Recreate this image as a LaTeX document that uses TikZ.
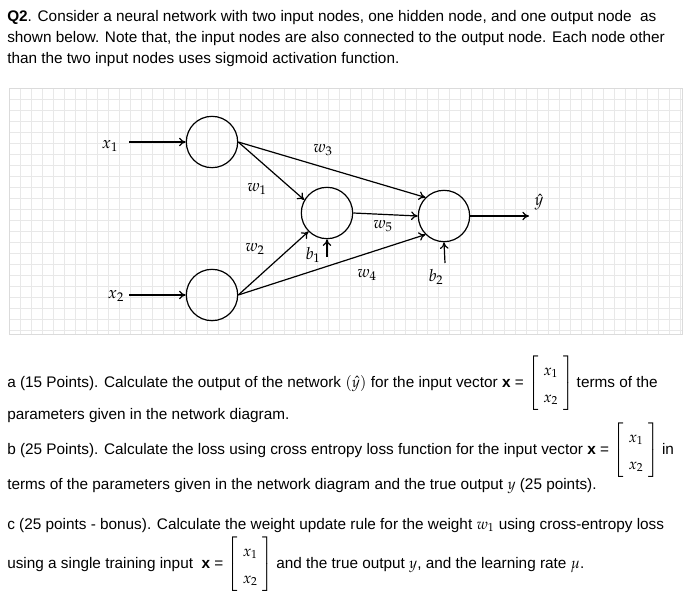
\documentclass[tikz,border=0pt]{standalone}
\usepackage{amsmath}
\usepackage{mathpazo}
\usepackage[no-math]{fontspec}
\setmainfont{Liberation Sans}
\usetikzlibrary{arrows.meta}
\newcommand\qfont{\fontsize{11.5}{14}\selectfont}
\newcommand\labfont{\fontsize{12.5}{14}\selectfont}
\newcommand\vecx{\ensuremath{\renewcommand\arraystretch{1.45}\left[\begin{array}{@{\hspace{3.5pt}}c@{\hspace{3.5pt}}} x_1\\ x_2\end{array}\right]}}
\begin{document}
\begin{tikzpicture}[x=0.75pt,y=-0.75pt,
  neuron/.style={circle,draw,line width=0.9pt,minimum size=38.5pt,inner sep=0pt},
  edge/.style={-{To[length=5pt,width=6.5pt]},line width=0.9pt},
  lab/.style={font=\labfont,inner sep=0pt},
  qline/.style={anchor=base west,inner sep=0pt,font=\qfont},
  gridline/.style={draw=black!9,line width=0.5pt}]
\useasboundingbox (0,0) rectangle (686,590);
\fill[white] (0,0) rectangle (686,590);
% grid background
\foreach \i in {0,...,61} \draw[gridline] ({9+11*\i},88) -- ({9+11*\i},334);
\foreach \j in {0,...,22} \draw[gridline] (9,{88+11*\j}) -- (682,{88+11*\j});
\draw[draw=black!14,line width=0.5pt] (9,88) rectangle (682,334);
% header text
\node[qline] (h1) at (7,21) {\textbf{Q2}. Consider a neural network with two input nodes, one hidden node, and one output node\ \ as};
\node[qline] (h2) at (7,42) {shown below. Note that, the input nodes are also connected to the output node. Each node other};
\node[qline] (h3) at (7,63) {than the two input nodes uses sigmoid activation function.};
% network
\node[neuron] (in1) at (212,142) {};
\node[neuron] (in2) at (212,295) {};
\node[neuron] (hid) at (327,213) {};
\node[neuron] (out) at (444,216) {};
\node[lab] (x1) at (110,146) {$x_1$};
\node[lab] (x2) at (116,296) {$x_2$};
\coordinate (x1s) at (129,142);
\coordinate (x2s) at (129,295);
\coordinate (yend) at (529,216);
\coordinate (b1s) at (327,257);
\coordinate (b2s) at (445,263);
\draw[edge] (x1s) -- (in1);
\draw[edge] (x2s) -- (in2);
\draw[edge] (in1.east) -- (hid.150);
\draw[edge] (in1.east) -- (out.135);
\draw[edge] (in2.east) -- (hid.225);
\draw[edge] (in2.east) -- (out.225);
\draw[edge] (hid.east) -- (out.west);
\draw[edge] (out.east) -- (yend);
\draw[edge] (b1s) -- (hid.south);
\draw[edge] (b2s) -- (out.south);
\node[lab] (w1) at (257,189) {$w_1$};
\node[lab] (w2) at (255,249) {$w_2$};
\node[lab] (w3) at (323,150) {$w_3$};
\node[lab] (w4) at (367,275) {$w_4$};
\node[lab] (w5) at (383,226) {$w_5$};
\node[lab] (b1) at (313,255) {$b_1$};
\node[lab] (b2) at (436,277) {$b_2$};
\node[lab] (yhat) at (539,202) {$\hat{y}$};
% questions
\node[qline] (qa) at (7,387) {a (15 Points). Calculate the output of the network $(\hat{y})$ for the input vector \textbf{x} = \vecx\hspace{2.5pt}terms of the};
\node[qline] (qa2) at (7,419) {parameters given in the network diagram.};
\node[qline] (qb) at (7,454) {b (25 Points). Calculate the loss using cross entropy loss function for the input vector \textbf{x} = \vecx\hspace{2.5pt}in};
\node[qline] (qb2) at (7,489) {terms of the parameters given in the network diagram and the true output $y$ (25 points).};
\node[qline] (qc) at (7,529) {c (25 points - bonus). Calculate the weight update rule for the weight $w_1$ using cross-entropy loss};
\node[qline] (qc2) at (7,568) {using a single training input\ \ \textbf{x} = \vecx\hspace{2.5pt}and the true output $y$, and the learning rate $\mu$.};
\end{tikzpicture}
\end{document}
